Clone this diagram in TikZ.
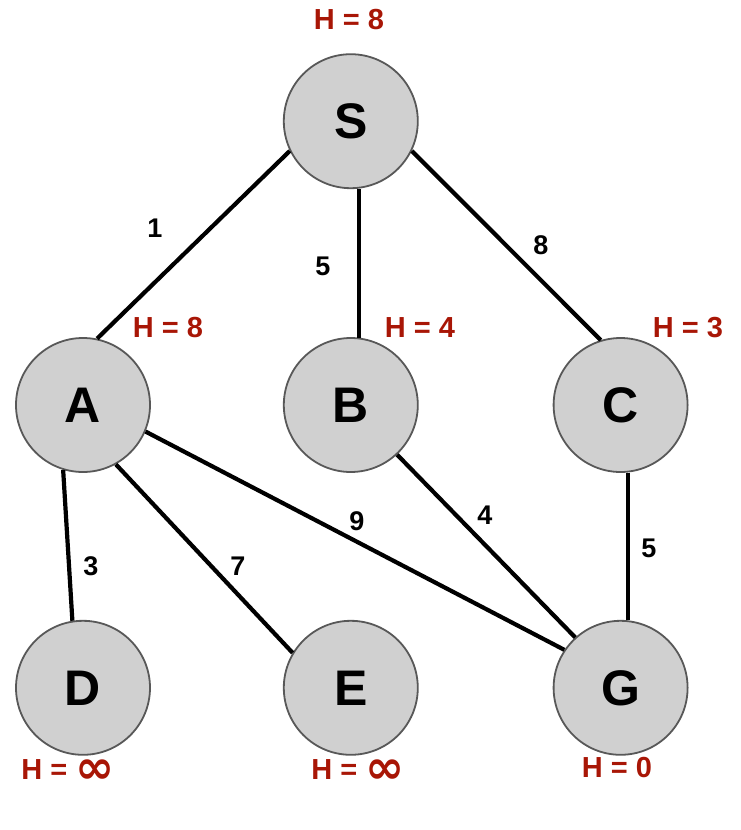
\documentclass[tikz,border=0pt]{standalone}
\usepackage{fontspec}
\setmainfont{Liberation Sans}
\newfontfamily\symfont{DejaVu Sans}
\usetikzlibrary{positioning}
\definecolor{nodefill}{RGB}{208,208,208}
\definecolor{noderule}{RGB}{88,88,88}
\definecolor{hred}{RGB}{168,22,6}
\newcommand{\inftysym}{\raisebox{-4pt}{\symfont\fontsize{47}{47}\selectfont\bfseries ∞}}

\begin{document}
\begin{tikzpicture}[
  x=1pt, y=-1pt,
  vertex/.style={circle, draw=noderule, fill=nodefill, line width=1.8pt,
    minimum size=134pt, inner sep=0pt, font=\fontsize{50}{60}\selectfont\bfseries},
  edge/.style={draw=black, line width=4.2pt},
  wlabel/.style={font=\fontsize{27}{30}\selectfont\bfseries, inner sep=0pt},
  hlabel/.style={font=\fontsize{29}{34}\selectfont\bfseries, text=hred, inner sep=0pt}
]
\useasboundingbox (0,0) rectangle (740,830);

% graph
\node[vertex] (A) at (83,405) {A};
\node[vertex, right=132pt of A] (B) {B};
\node[vertex, right=134pt of B] (C) {C};
\node[vertex, above=148pt of B] (S) {S};
\node[vertex, below=147pt of A] (D) {D};
\node[vertex, below=147pt of B] (E) {E};
\node[vertex, below=147pt of C] (G) {G};

\draw[edge] (S.-154) -- (A.78);
\draw[edge] (S.-83) -- (B.83);
\draw[edge] (S.-26) -- (C.107);
\draw[edge] (A.-107) -- (D.99);
\draw[edge] (A.-61) -- (E.149);
\draw[edge] (A.-23) -- (G.146);
\draw[edge] (B.-47) -- (G.132);
\draw[edge] (C.-84) -- (G.84);

% costs
\node[wlabel] (wSA) at (155,228) {1};
\node[wlabel] (wSB) at (323,266) {5};
\node[wlabel] (wSC) at (541,245) {8};
\node[wlabel] (wAD) at (91,566) {3};
\node[wlabel] (wAE) at (238,566) {7};
\node[wlabel] (wAG) at (357,521) {9};
\node[wlabel] (wBG) at (485,515) {4};
\node[wlabel] (wCG) at (649,548) {5};

% heuristics
\node[hlabel] (hS) at (349,20) {H = 8};
\node[hlabel] (hA) at (168,328) {H = 8};
\node[hlabel] (hB) at (420,328) {H = 4};
\node[hlabel] (hC) at (688,328) {H = 3};
\node[hlabel] (hD) at (68,772) {H = \inftysym};
\node[hlabel] (hE) at (358,772) {H = \inftysym};
\node[hlabel] (hG) at (617,768) {H = 0};
\end{tikzpicture}
\end{document}
